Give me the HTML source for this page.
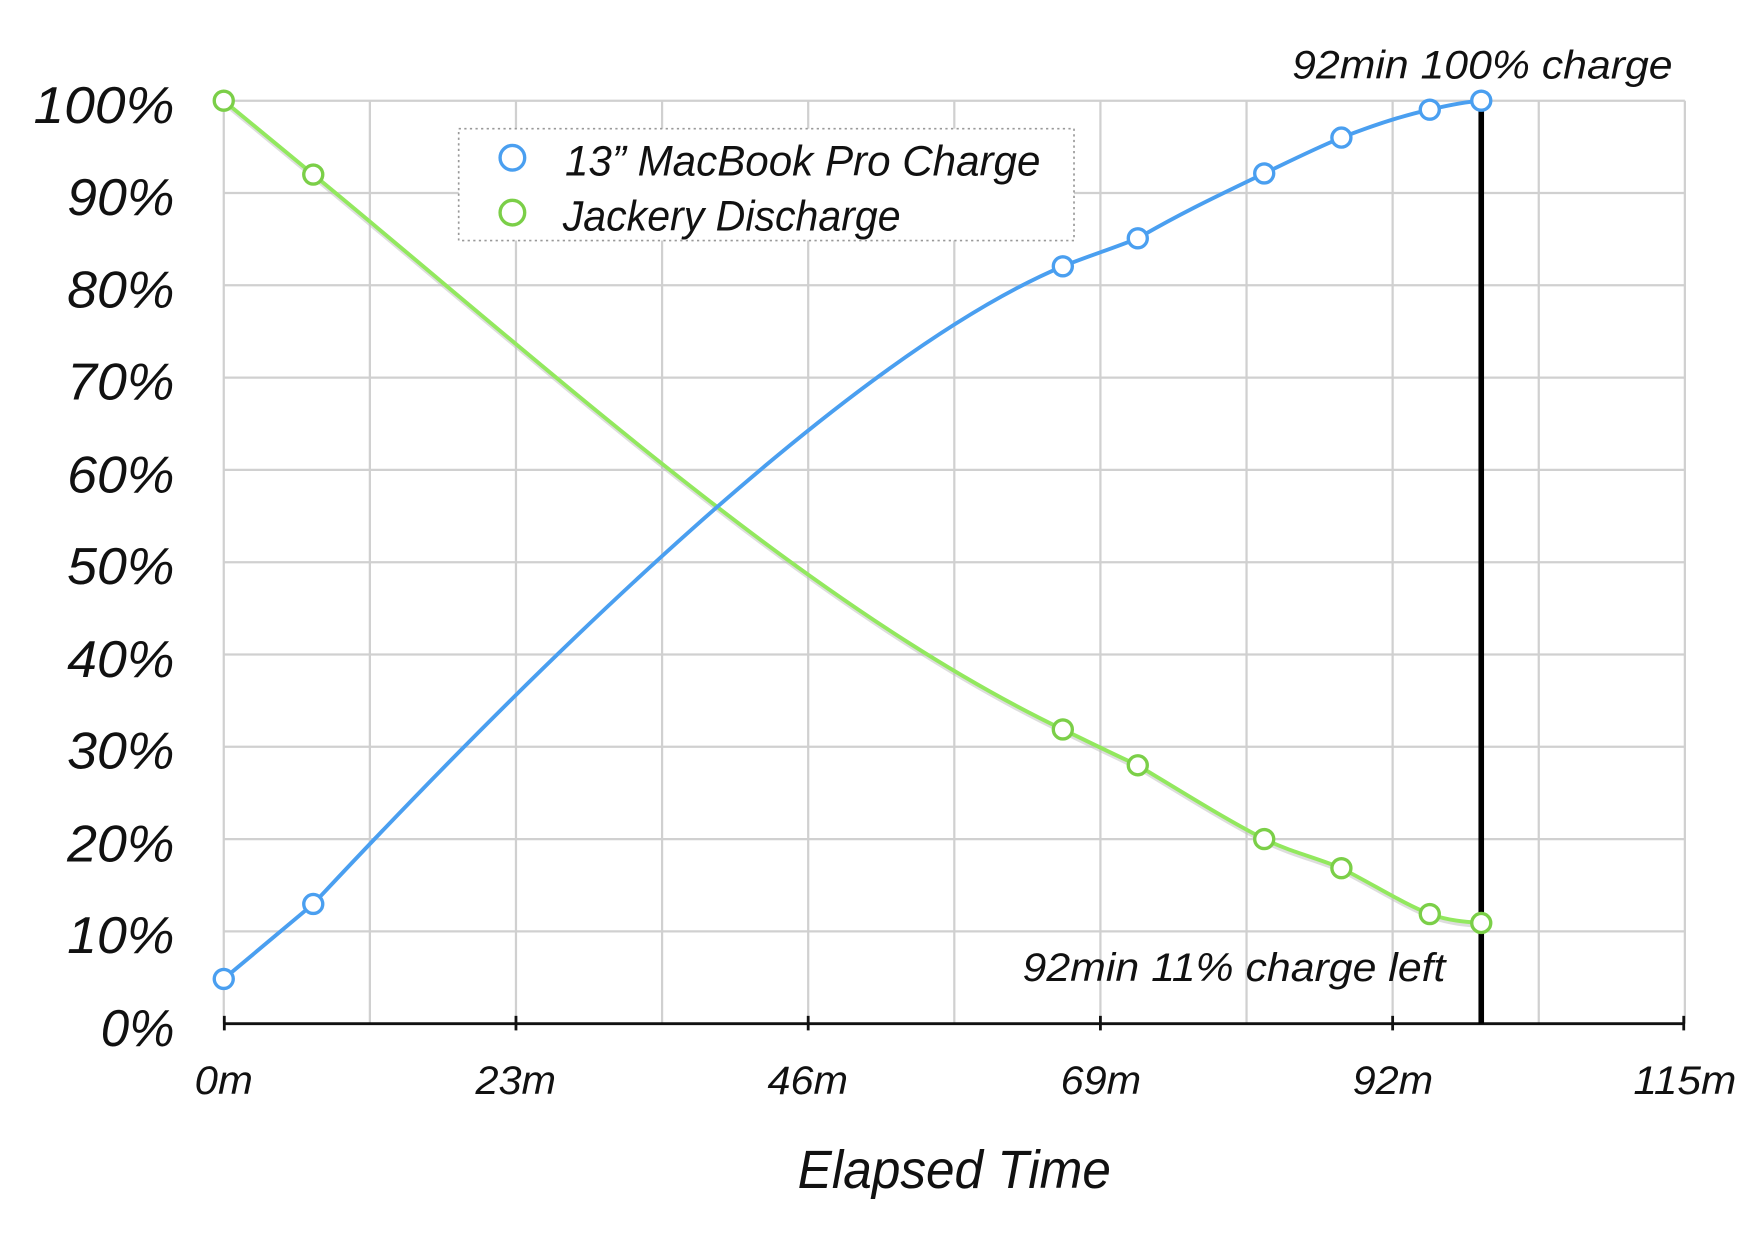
<!DOCTYPE html>
<html><head><meta charset="utf-8"><style>
html,body{margin:0;padding:0;background:#fff;}
svg{display:block;}
text{font-family:"Liberation Sans",sans-serif;font-style:italic;fill:#111;}
</style></head><body>
<svg width="1754" height="1246" viewBox="0 0 1567.8 1113.7" xmlns="http://www.w3.org/2000/svg">
<g stroke="#d0d0d0" stroke-width="2">
<line x1="200" y1="90" x2="1506" y2="90"/>
<line x1="200" y1="172.5" x2="1506" y2="172.5"/>
<line x1="200" y1="255" x2="1506" y2="255"/>
<line x1="200" y1="337.5" x2="1506" y2="337.5"/>
<line x1="200" y1="420" x2="1506" y2="420"/>
<line x1="200" y1="502.5" x2="1506" y2="502.5"/>
<line x1="200" y1="585" x2="1506" y2="585"/>
<line x1="200" y1="667.5" x2="1506" y2="667.5"/>
<line x1="200" y1="750" x2="1506" y2="750"/>
<line x1="200" y1="832.5" x2="1506" y2="832.5"/>
<line x1="200" y1="90" x2="200" y2="915"/>
<line x1="330.6" y1="90" x2="330.6" y2="915"/>
<line x1="461.2" y1="90" x2="461.2" y2="915"/>
<line x1="591.8" y1="90" x2="591.8" y2="915"/>
<line x1="722.4" y1="90" x2="722.4" y2="915"/>
<line x1="853" y1="90" x2="853" y2="915"/>
<line x1="983.6" y1="90" x2="983.6" y2="915"/>
<line x1="1114.2" y1="90" x2="1114.2" y2="915"/>
<line x1="1244.8" y1="90" x2="1244.8" y2="915"/>
<line x1="1375.4" y1="90" x2="1375.4" y2="915"/>
<line x1="1506" y1="90" x2="1506" y2="915"/>
</g>
<g stroke="#111" stroke-width="2.5">
<line x1="200" y1="915" x2="1506" y2="915"/>
<line x1="200.5" y1="908" x2="200.5" y2="921"/>
<line x1="461.2" y1="908" x2="461.2" y2="921"/>
<line x1="722.4" y1="908" x2="722.4" y2="921"/>
<line x1="983.6" y1="908" x2="983.6" y2="921"/>
<line x1="1244.8" y1="908" x2="1244.8" y2="921"/>
<line x1="1505" y1="908" x2="1505" y2="921"/>
</g>
<line x1="1324" y1="90" x2="1324" y2="915" stroke="#000" stroke-width="5"/>
<path d="M200,90 L280,156 C503,340 727,545 950,652 C975,664 995,674 1017,684 C1060,710 1095,732 1130,750 C1155,762 1175,766 1199,776 C1230,792 1255,808 1278,817 C1295,823 1310,824 1324,825" fill="none" stroke="#bbb" stroke-width="5" opacity="0.5" transform="translate(1,2)"/>
<path d="M200,90 L280,156 C503,340 727,545 950,652 C975,664 995,674 1017,684 C1060,710 1095,732 1130,750 C1155,762 1175,766 1199,776 C1230,792 1255,808 1278,817 C1295,823 1310,824 1324,825" fill="none" stroke="#92e85e" stroke-width="3.5"/>
<path d="M200,875 L280,808 C480,594 760,318 950,238 C975,228 995,222 1017,213 C1060,188 1095,172 1130,155 C1155,143 1175,133 1199,123 C1230,111 1255,103 1278,98 C1295,94 1310,91 1324,90" fill="none" stroke="#4a9ff0" stroke-width="3.5"/>
<g fill="#fff" stroke="#7bcf48" stroke-width="3">
<circle cx="200" cy="90" r="8.5"/><circle cx="280" cy="156" r="8.5"/><circle cx="950" cy="652" r="8.5"/><circle cx="1017" cy="684" r="8.5"/><circle cx="1130" cy="750" r="8.5"/><circle cx="1199" cy="776" r="8.5"/><circle cx="1278" cy="817" r="8.5"/><circle cx="1324" cy="825" r="8.5"/>
</g>
<g fill="#fff" stroke="#4a9ff0" stroke-width="3">
<circle cx="200" cy="875" r="8.5"/><circle cx="280" cy="808" r="8.5"/><circle cx="950" cy="238" r="8.5"/><circle cx="1017" cy="213" r="8.5"/><circle cx="1130" cy="155" r="8.5"/><circle cx="1199" cy="123" r="8.5"/><circle cx="1278" cy="98" r="8.5"/><circle cx="1324" cy="90" r="8.5"/>
</g>
<rect x="410" y="115" width="550" height="100" fill="#fff" stroke="#999" stroke-width="1.5" stroke-dasharray="2,3"/>
<circle cx="458" cy="141" r="11" fill="#fff" stroke="#4a9ff0" stroke-width="3"/>
<circle cx="458" cy="190" r="11" fill="#fff" stroke="#7bcf48" stroke-width="3"/>
<text x="505" y="157" font-size="38" textLength="425" lengthAdjust="spacingAndGlyphs">13” MacBook Pro Charge</text>
<text x="503" y="206" font-size="38" textLength="302" lengthAdjust="spacingAndGlyphs">Jackery Discharge</text>
<g font-size="46" text-anchor="end">
<text x="156" y="110" textLength="126" lengthAdjust="spacingAndGlyphs">100%</text>
<text x="156" y="192" textLength="96" lengthAdjust="spacingAndGlyphs">90%</text>
<text x="156" y="275" textLength="96" lengthAdjust="spacingAndGlyphs">80%</text>
<text x="156" y="357" textLength="96" lengthAdjust="spacingAndGlyphs">70%</text>
<text x="156" y="440" textLength="96" lengthAdjust="spacingAndGlyphs">60%</text>
<text x="156" y="522" textLength="96" lengthAdjust="spacingAndGlyphs">50%</text>
<text x="156" y="605" textLength="96" lengthAdjust="spacingAndGlyphs">40%</text>
<text x="156" y="687" textLength="96" lengthAdjust="spacingAndGlyphs">30%</text>
<text x="156" y="770" textLength="96" lengthAdjust="spacingAndGlyphs">20%</text>
<text x="156" y="852" textLength="96" lengthAdjust="spacingAndGlyphs">10%</text>
<text x="156" y="935" textLength="66" lengthAdjust="spacingAndGlyphs">0%</text>
</g>
<g font-size="36" text-anchor="middle">
<text x="200" y="978" textLength="52" lengthAdjust="spacingAndGlyphs">0m</text>
<text x="461" y="978" textLength="72" lengthAdjust="spacingAndGlyphs">23m</text>
<text x="722" y="978" textLength="72" lengthAdjust="spacingAndGlyphs">46m</text>
<text x="984" y="978" textLength="72" lengthAdjust="spacingAndGlyphs">69m</text>
<text x="1245" y="978" textLength="72" lengthAdjust="spacingAndGlyphs">92m</text>
<text x="1506" y="978" textLength="92" lengthAdjust="spacingAndGlyphs">115m</text>
</g>
<text x="853" y="1062" font-size="48" text-anchor="middle" textLength="280" lengthAdjust="spacingAndGlyphs">Elapsed Time</text>
<text x="1155" y="70" font-size="36" textLength="340" lengthAdjust="spacingAndGlyphs">92min 100% charge</text>
<text x="914" y="877" font-size="36" textLength="378" lengthAdjust="spacingAndGlyphs">92min 11% charge left</text>
</svg>
</body></html>
